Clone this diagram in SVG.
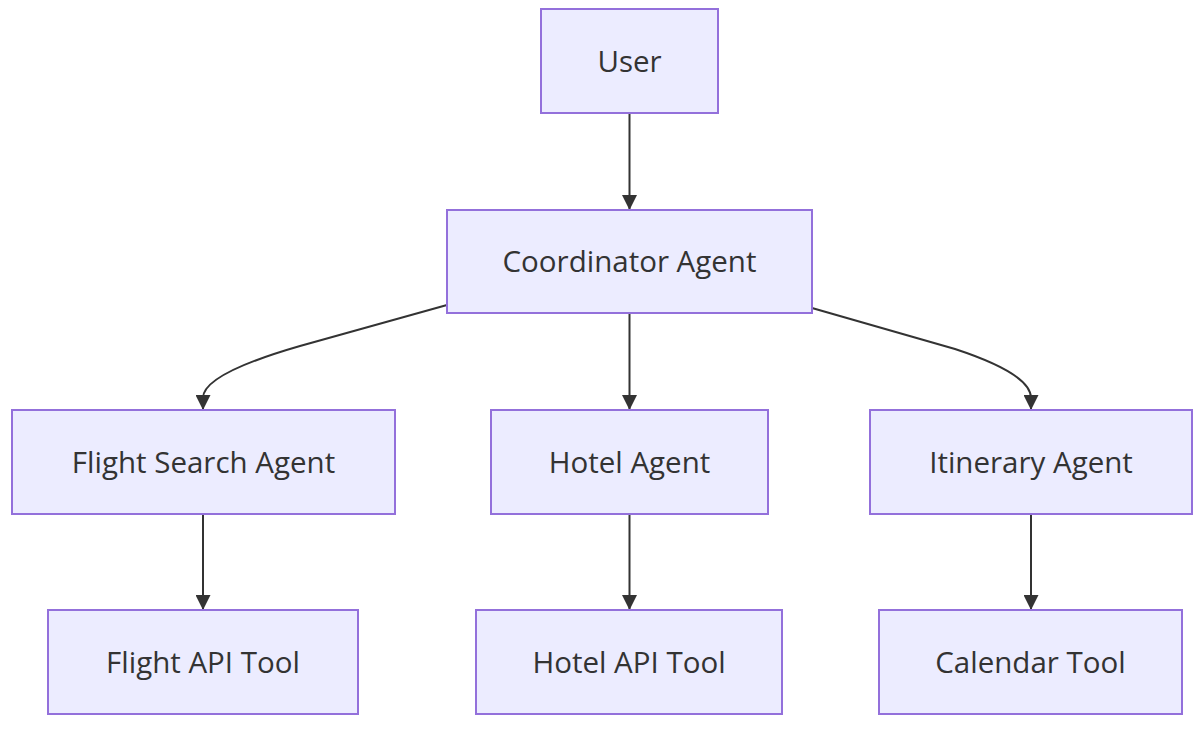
<svg xmlns="http://www.w3.org/2000/svg" width="1200" height="729" viewBox="0 0 1200 729">
<style>
.node rect{fill:#ECECFF;stroke:#9370DB;stroke-width:2}
.node text{font-family:"Open Sans","DejaVu Sans",sans-serif;font-size:29.5px;fill:#333;text-anchor:middle;dominant-baseline:central}
.edge{fill:none;stroke:#333;stroke-width:2}
</style>
<defs>
<marker id="arrow" viewBox="0 0 10 10" refX="10" refY="5" markerWidth="15" markerHeight="15" markerUnits="userSpaceOnUse" orient="auto">
<path d="M0,0 L10,5 L0,10 z" fill="#333"/>
</marker>
</defs>
<rect width="1200" height="729" fill="#fff"/>
<g id="edges">
<path class="edge" d="M629.5,114 L629.5,210" marker-end="url(#arrow)"/>
<path class="edge" d="M447,305 L300,346 Q203,374 203,398 L203,410" marker-end="url(#arrow)"/>
<path class="edge" d="M629.5,314 L629.5,410" marker-end="url(#arrow)"/>
<path class="edge" d="M812,308 L955,349 Q1031,374 1031,398 L1031,410" marker-end="url(#arrow)"/>
<path class="edge" d="M203,515 L203,610" marker-end="url(#arrow)"/>
<path class="edge" d="M629.5,515 L629.5,610" marker-end="url(#arrow)"/>
<path class="edge" d="M1031,515 L1031,610" marker-end="url(#arrow)"/>
</g>
<g id="user" class="node"><rect x="541" y="9" width="177" height="104"/><text x="629.5" y="60">User</text></g>
<g id="coordinator" class="node"><rect x="447" y="210" width="365" height="103"/><text x="629.5" y="260.5">Coordinator Agent</text></g>
<g id="flight" class="node"><rect x="12" y="410" width="383" height="104"/><text x="203.5" y="461">Flight Search Agent</text></g>
<g id="hotel" class="node"><rect x="491" y="410" width="277" height="104"/><text x="629.5" y="461">Hotel Agent</text></g>
<g id="itinerary" class="node"><rect x="870" y="410" width="322" height="104"/><text x="1031" y="461">Itinerary Agent</text></g>
<g id="flightapi" class="node"><rect x="48" y="610" width="310" height="104"/><text x="203" y="661">Flight API Tool</text></g>
<g id="hotelapi" class="node"><rect x="476" y="610" width="306" height="104"/><text x="629" y="661">Hotel API Tool</text></g>
<g id="calendar" class="node"><rect x="879" y="610" width="303" height="104"/><text x="1030.5" y="661">Calendar Tool</text></g>
</svg>
